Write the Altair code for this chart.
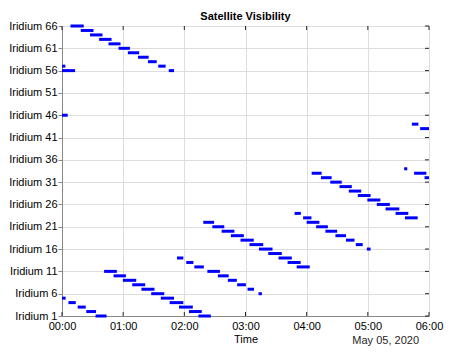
import altair as alt
import pandas as pd

# Visibility intervals (minutes after 00:00, May 05 2020)
sat = [66, 65, 64, 63, 62, 61, 60, 59, 58, 57, 56,
       57, 56, 46,
       5, 4, 3, 2, 1,
       11, 10, 9, 8, 7, 6, 5, 4, 3, 2, 1,
       14, 13, 12, 11, 10, 9, 8, 7, 6,
       22, 21, 20, 19, 18, 17, 16, 15, 14, 13, 12,
       24, 23, 22, 21, 20, 19, 18, 17, 16,
       33, 32, 31, 30, 29, 28, 27, 26, 25, 24, 23,
       34, 33, 32, 44, 43]
start_min = [8.3, 18.4, 27.5, 36.4, 45.6, 55.5, 64.6, 74.5, 84.3, 94.4, 104.7,
             0, 0, 0,
             0, 6.3, 15.4, 23.8, 32.9,
             41.3, 50.6, 59.7, 68.9, 77.9, 87.5, 96.9, 105.6, 114.8, 124.6, 133.8,
             112.8, 121.9, 129.8, 142.6, 152.9, 162.7, 171.8, 182.0, 192.8,
             138.6, 147.5, 156.6, 165.7, 175.1, 183.9, 193.2, 202.3, 212.4, 221.3, 230.2,
             228.2, 236.5, 240.0, 249.3, 258.4, 268.2, 278.6, 288.2, 299.0,
             244.9, 254.0, 263.1, 272.2, 281.3, 290.2, 299.5, 308.8, 317.4, 327.2, 336.4,
             335.6, 345.4, 355.6, 343.2, 351.3]
end_min = [21.3, 30.9, 39.7, 48.6, 57.4, 66.6, 75.7, 85.0, 92.9, 101.7, 109.9,
           3.3, 12.8, 5.6,
           3.6, 13.5, 23.3, 33.4, 43.7,
           53.8, 62.7, 72.8, 81.6, 90.7, 100.3, 109.9, 119.0, 128.3, 137.1, 146.0,
           119.0, 128.9, 139.1, 154.9, 163.5, 171.5, 180.4, 188.3, 196.1,
           149.2, 159.2, 169.1, 178.4, 188.1, 197.4, 206.5, 215.6, 225.4, 234.1, 243.0,
           234.3, 244.7, 252.5, 260.8, 269.9, 278.6, 286.9, 295.0, 302.7,
           254.7, 264.5, 274.4, 284.3, 293.5, 302.7, 312.3, 321.6, 330.9, 339.7, 348.9,
           338.7, 357.4, 360.0, 349.6, 360.0]

y_ticks = [1, 6, 11, 16, 21, 26, 31, 36, 41, 46, 51, 56, 61, 66]
x_ticks = [0, 60, 120, 180, 240, 300, 360]

df = pd.DataFrame({"sat": sat, "start": start_min, "end": end_min})
df_y = pd.DataFrame({"v": y_ticks})
df_x = pd.DataFrame({"t": x_ticks})

W, H = 367, 290
AXC = "#262626"
GRID = "#e3e3e3"
FONT = "Liberation Sans"

xscale = alt.Scale(domain=[0, 360], nice=False, zero=False)
yscale = alt.Scale(domain=[1, 66], nice=False, zero=False)

x_axis = alt.Axis(values=x_ticks, title="Time",
                  labelExpr="'0' + floor(datum.value/60) + ':00'",
                  tickSize=0, labelPadding=4, titlePadding=2,
                  labelFontSize=11, titleFontSize=11,
                  labelOverlap=False, labelFlush=False,
                  titleFontWeight="normal", grid=True)
y_axis = alt.Axis(values=y_ticks, title=None,
                  labelExpr="'Iridium ' + datum.value",
                  tickSize=4, labelPadding=1, labelFontSize=11,
                  labelOverlap=False, labelFlush=False, grid=True)

segs = alt.Chart(df).mark_rule(color="#0000ff", strokeWidth=3, strokeCap="butt").encode(
    x=alt.X("start:Q", scale=xscale, axis=x_axis),
    x2="end:Q",
    y=alt.Y("sat:Q", scale=yscale, axis=y_axis),
)

right_ticks = alt.Chart(df_y).mark_rule(color=AXC, strokeWidth=1).encode(
    y=alt.Y("v:Q", scale=yscale, axis=y_axis),
    x=alt.value(W - 4), x2=alt.value(W),
)
top_ticks = alt.Chart(df_x).mark_rule(color=AXC, strokeWidth=1).encode(
    x=alt.X("t:Q", scale=xscale, axis=x_axis),
    y=alt.value(0), y2=alt.value(4),
)
bottom_ticks = alt.Chart(df_x).mark_rule(color=AXC, strokeWidth=1).encode(
    x=alt.X("t:Q", scale=xscale, axis=x_axis),
    y=alt.value(H - 4), y2=alt.value(H),
)
date_label = alt.Chart(pd.DataFrame({"d": ["May 05, 2020"]})).mark_text(
    align="right", baseline="middle", fontSize=11, font=FONT, color=AXC
).encode(text="d:N", x=alt.value(357), y=alt.value(315))

title_text = alt.Chart(pd.DataFrame({"ttl": ["Satellite Visibility"]})).mark_text(
    align="center", baseline="alphabetic", fontSize=11, fontWeight="bold",
    font=FONT, color="#000000"
).encode(text="ttl:N", x=alt.value(W / 2), y=alt.value(-6))

chart = alt.layer(segs, right_ticks, top_ticks, bottom_ticks, date_label,
                  title_text).properties(
    width=W, height=H,
    autosize=alt.AutoSizeParams(type="none"),
    padding={"left": 62, "top": 26, "right": 45, "bottom": 39},
).configure_view(stroke=AXC, strokeWidth=1).configure_axis(
    labelFont=FONT, titleFont=FONT, labelColor=AXC, titleColor=AXC,
    domainColor=AXC, tickColor=AXC, gridColor=GRID, gridWidth=1,
).configure(background="white")

chart.save("out.html", embed_options={"renderer": "svg", "actions": False})
